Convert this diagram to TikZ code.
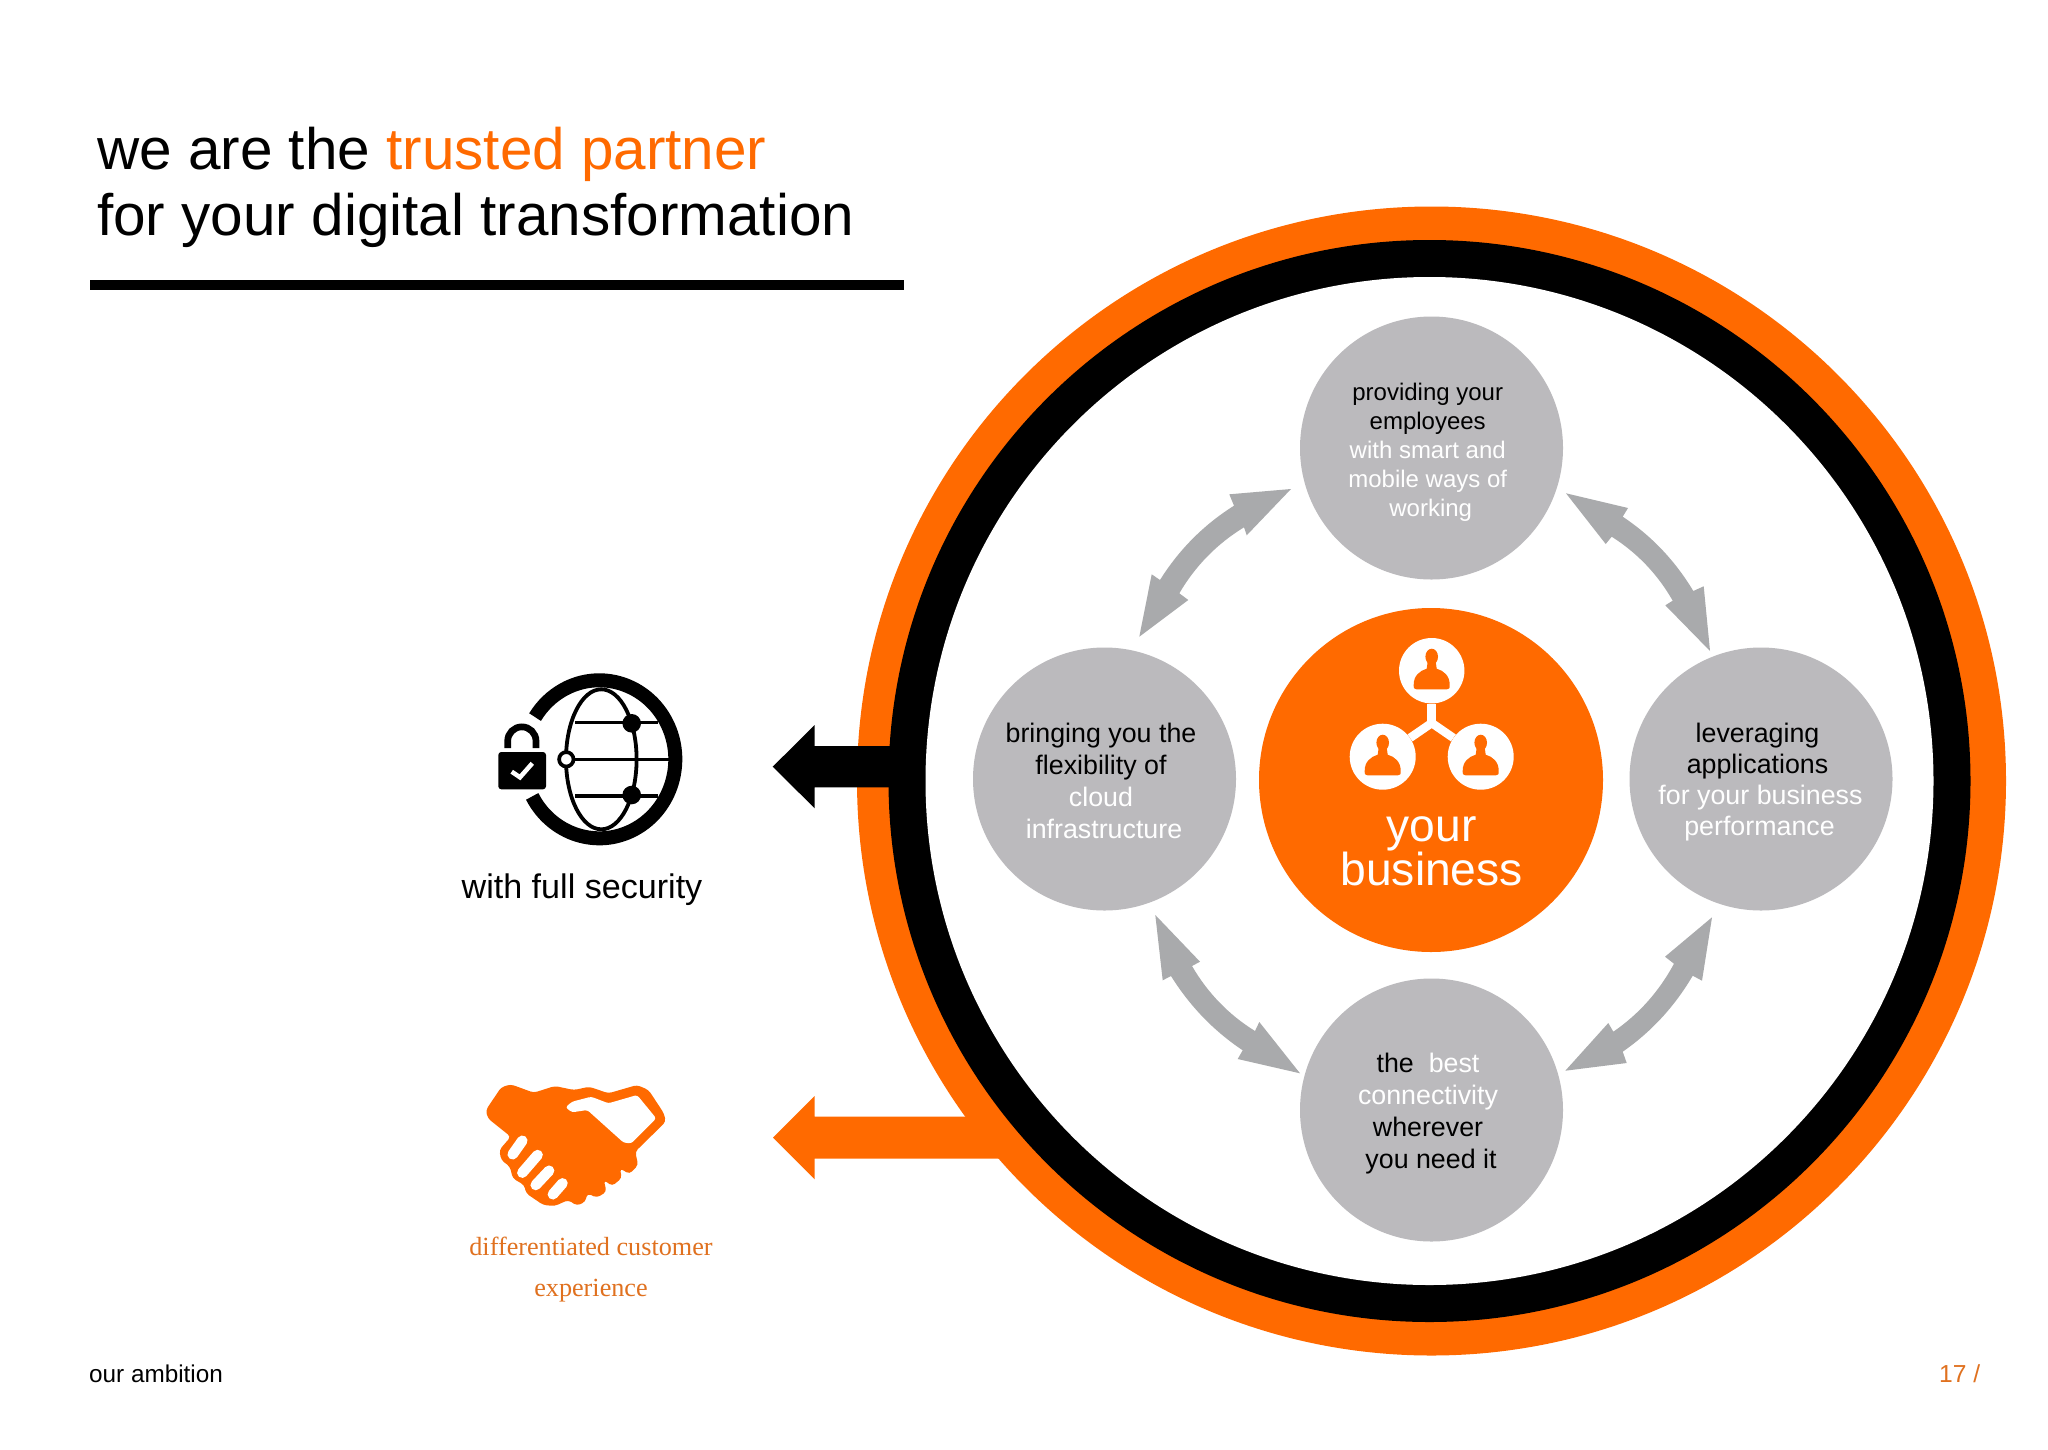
\documentclass[tikz,border=0pt]{standalone}
\usepackage{fontspec}
\setmainfont{Liberation Sans}
\newfontfamily\serifalt{Liberation Serif}
\definecolor{brand}{HTML}{FF6A00}
\definecolor{softgray}{HTML}{BBBABD}
\definecolor{arrowgray}{HTML}{A9AAAC}
\definecolor{capcolor}{HTML}{E0711F}
\newcommand{\fs}[2]{\fontsize{#1pt}{#2pt}\selectfont}
\tikzset{
  grayball/.style={circle,fill=softgray,inner sep=0pt,minimum size=263pt},
  blurb/.style={inner sep=0pt,align=center,anchor=base,font=\fs{26.8}{32}},
  line1/.style={inner sep=0pt,anchor=base},
  twoway/.style={fill=arrowgray},
  person/.pic={
    \fill[brand] (0,14) ellipse [x radius=6.3pt,y radius=8pt];
    \fill[brand] (-18,-14) .. controls (-18,-5) and (-12,0) .. (-5,2) -- (-4,9) -- (4,9) -- (5,2)
      .. controls (12,0) and (18,-5) .. (18,-14) .. controls (18,-18) .. (15,-18.7) -- (-15,-18.7) .. controls (-18,-18) .. (-18,-14) -- cycle;
  }
}
\begin{document}
\begin{tikzpicture}[x=1pt,y=1pt]
\useasboundingbox (0,0) rectangle (2048,-1449);
\fill[white] (0,0) rectangle (2048,-1449);

% title
\node[inner sep=0pt,anchor=base west,align=left,font=\fs{58.45}{66.7}] (title) at (97,-235.7)
  {we are the \textcolor{brand}{trusted partner}\\for your digital transformation};
\fill[black] (89.7,-280.3) rectangle (904,-289.7);

% rings and side arrows
\fill[brand] (1431.5,-781) circle [radius=574.5pt];
\fill[brand] (773,-1137.7) -- (814.7,-1096) -- (814.7,-1116.7) -- (1012,-1116.7) -- (1012,-1158.7) -- (814.7,-1158.7) -- (814.7,-1179.3) -- cycle;
\fill[black] (1429.5,-781) circle [radius=541pt];
\fill[white] (1429.5,-781) circle [radius=504pt];
\fill[black] (772.7,-766.7) -- (814.7,-725) -- (814.7,-746) -- (895,-746) -- (895,-787.3) -- (814.7,-787.3) -- (814.7,-808.3) -- cycle;

% satellites
\node[grayball] (top) at (1431.5,-448) {};
\node[grayball] (left) at (1104.5,-779) {};
\node[grayball] (right) at (1761,-779) {};
\node[grayball] (bottom) at (1431.5,-1110) {};
\node[circle,fill=brand,inner sep=0pt,minimum size=344pt] (hub) at (1431,-780) {};

% curved two-way arrows
\fill[twoway] (1291,-489) -- (1229.3,-494.3) -- (1234,-505.7) .. controls (1203.7,-524.8) and (1179,-549.6) .. (1160,-580)
  -- (1151.7,-574.3) -- (1139.3,-636.7) -- (1188.3,-600) -- (1179.3,-593.3) .. controls (1195.4,-565.8) and (1217,-543.8) .. (1244,-527.3)
  -- (1246.7,-535.3) -- cycle;
\fill[twoway] (1566,-493.3) -- (1628,-508) -- (1622.7,-516.7) .. controls (1651.6,-535.9) and (1675.1,-560.7) .. (1693.3,-591)
  -- (1703.7,-586.3) -- (1710,-651) -- (1665.3,-605.3) -- (1672.7,-600.7) .. controls (1657.6,-574.2) and (1637.2,-552.9) .. (1611.7,-536.7)
  -- (1605.7,-544) -- cycle;
\fill[twoway] (1155.3,-915) -- (1200,-961.7) -- (1192,-966) .. controls (1207.7,-993) and (1228.7,-1014.7) .. (1255,-1031)
  -- (1259.3,-1022) -- (1300,-1073.3) -- (1237.7,-1059) -- (1242.7,-1050.3) .. controls (1213.6,-1030.8) and (1189.7,-1006) .. (1171,-976)
  -- (1162.7,-980.3) -- cycle;
\fill[twoway] (1712,-917.3) -- (1702,-980.7) -- (1692.7,-975.7) .. controls (1674.7,-1006.4) and (1651.4,-1031.7) .. (1622.7,-1051.7)
  -- (1626.7,-1063) -- (1565.3,-1070.7) -- (1608.3,-1023) -- (1613.3,-1031.7) .. controls (1638.8,-1014.2) and (1659,-991.5) .. (1674,-963.7)
  -- (1665,-956.7) -- cycle;

% satellite texts
\node[blurb,font=\fs{24}{28.8}] (toptext) at (1427.7,-516)
  {providing your\\employees\\\textcolor{white}{with smart and}\\\textcolor{white}{mobile ways of}\\\textcolor{white}{\hspace{6pt}working}};
\node[blurb] (lefttext) at (1101,-838)
  {bringing you the\\flexibility of\\\textcolor{white}{cloud}\\\textcolor{white}{\hspace{6pt}infrastructure}};
\node[blurb,font=\fs{26.8}{30.8}] (righttext) at (1757.5,-835)
  {leveraging\\applications\\\textcolor{white}{\hspace{6pt}for your business}\\\textcolor{white}{\hspace{4pt}performance}};
\node[blurb] (bottomtext) at (1428,-1168)
  {the\ \ \textcolor{white}{best}\\\textcolor{white}{connectivity}\\wherever\\\hspace{6pt}you need it};

% hub icon
\coordinate (hubjoin) at (1431.7,-723);
\node[circle,fill=white,inner sep=0pt,minimum size=65.4pt] (p1) at (1431.7,-670.7) {};
\node[circle,fill=white,inner sep=0pt,minimum size=66pt] (p2) at (1382.7,-756.7) {};
\node[circle,fill=white,inner sep=0pt,minimum size=66pt] (p3) at (1480.7,-756.7) {};
\draw[white,line width=8.5pt] (p1) -- (hubjoin);
\draw[white,line width=8.5pt] (hubjoin) -- (p2);
\draw[white,line width=8.5pt] (hubjoin) -- (p3);
\pic at (p1) {person};
\pic at (p2) {person};
\pic at (p3) {person};
\node[inner sep=0pt,align=center,anchor=base,text=white,font=\fs{46.2}{43.3}] (hubtext) at (1431.7,-885) {your\\business};

% globe icon
\draw[black,line width=14pt] (599.3,-759.3) ++(208:76pt and 79pt) arc [start angle=208,end angle=507.7,x radius=76pt,y radius=79pt];
\draw[black,line width=3.8pt] (601.3,-759.3) ellipse [x radius=35.3pt,y radius=70pt];
\draw[black,line width=3.5pt] (575,-722.3) -- (658.3,-722.3);
\draw[black,line width=3.5pt] (566.3,-759.3) -- (669,-759.3);
\draw[black,line width=3.5pt] (575,-796) -- (658.3,-796);
\fill[black] (631.7,-723.3) circle [radius=9.3pt];
\fill[black] (631.7,-795) circle [radius=9.3pt];
\draw[black,fill=white,line width=3.7pt] (566.3,-759.3) circle [radius=7.2pt];
\fill[black,rounded corners=3pt] (498.3,-752) rectangle (546,-789.3);
\draw[black,line width=6.7pt] (507.7,-748) -- (507.7,-741) arc [start angle=180,end angle=0,radius=14.15pt] -- (536,-748);
\draw[white,line width=4.5pt] (511.7,-771.7) -- (520,-777.3) -- (532.3,-763.3);
\node[line1,font=\fs{34.1}{40}] (sectext) at (582,-898.7) {with full security};

% handshake icon
\fill[brand,rounded corners=3.5pt] (501.2,-1087.3) -- (510.8,-1084.3) -- (533.8,-1092.7) -- (554.8,-1086) -- (574,-1090) -- (589.3,-1086.7) -- (608.4,-1093.3) -- (637,-1085) -- (648.6,-1090) -- (663.9,-1113.3) -- (665.8,-1121.7) -- (635.2,-1151.7) -- (638.2,-1165) -- (629.4,-1174) -- (619.9,-1168.3) -- (621.8,-1178) -- (612.2,-1186) -- (603.8,-1180) -- (606.5,-1191.7) -- (596.9,-1197.7) -- (587.3,-1193.3) -- (585.4,-1201.7) -- (577,-1205.7) -- (568.2,-1200) -- (554.8,-1206) -- (543.3,-1205) -- (526.1,-1193.3) -- (524.2,-1185) -- (512.7,-1178.3) -- (510,-1166.7) -- (501.2,-1160) -- (499.3,-1150) -- (510.8,-1136.7) -- (487.8,-1118.3) -- (485.9,-1110) -- cycle;
\fill[white,rounded corners=2.5pt] (572,-1101.7) -- (591.2,-1096.7) -- (608.4,-1103.3) -- (637.1,-1095) -- (656.2,-1118.3) -- (631.4,-1143.3) -- (623.7,-1142.7) -- (587.3,-1110) -- (572,-1112.3) -- (565.5,-1107.3) -- cycle;
\draw[white,line width=10.5pt,line cap=round] (522.3,-1140.7) -- (512.7,-1154.3);
\draw[white,line width=10.5pt,line cap=round] (537.6,-1155) -- (522.3,-1172.7);
\draw[white,line width=10.5pt,line cap=round] (549.1,-1170.7) -- (535.7,-1185);
\draw[white,line width=10.5pt,line cap=round] (562.5,-1183.3) -- (552.9,-1194.3);
\node[inner sep=0pt,align=center,anchor=base,text=capcolor,font=\serifalt\fs{26.2}{41}] (cxtext) at (591,-1296) {differentiated customer\\experience};

% footer
\node[line1,anchor=base west,font=\fs{24.3}{29}] (footer) at (89,-1382) {our ambition};
\node[line1,anchor=base west,text=capcolor,font=\fs{24.6}{29}] (pageno) at (1939,-1382) {17 /};
\end{tikzpicture}
\end{document}
